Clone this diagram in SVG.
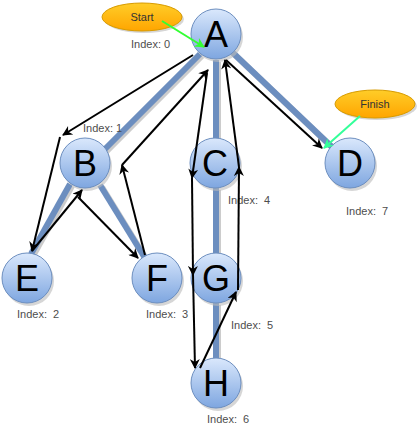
<svg xmlns="http://www.w3.org/2000/svg" width="419" height="430" viewBox="0 0 419 430">
<defs>
<linearGradient id="gNode" x1="0" y1="0" x2="0" y2="1">
<stop offset="0" stop-color="#dae8fc"/>
<stop offset="1" stop-color="#7ea6e0"/>
</linearGradient>
<linearGradient id="gOrange" x1="0" y1="0" x2="0" y2="1">
<stop offset="0" stop-color="#ffcd28"/>
<stop offset="1" stop-color="#ffa500"/>
</linearGradient>
<marker id="ah" viewBox="0 0 10 10" refX="9" refY="5" markerWidth="12" markerHeight="10" markerUnits="userSpaceOnUse" orient="auto">
<path d="M0,0 L10,5 L0,10 L3,5 Z" fill="#000"/>
</marker>
<marker id="ahg" viewBox="0 0 10 10" refX="9" refY="5" markerWidth="12" markerHeight="10" markerUnits="userSpaceOnUse" orient="auto">
<path d="M0,0 L10,5 L0,10 L3,5 Z" fill="#33ff33"/>
</marker>
<marker id="aha" viewBox="0 0 10 10" refX="9" refY="5" markerWidth="12" markerHeight="10" markerUnits="userSpaceOnUse" orient="auto">
<path d="M0,0 L10,5 L0,10 L3,5 Z" fill="#33ff99"/>
</marker>
</defs>
<style>
.tree{stroke:#6c8ebf;stroke-width:6;fill:none}
.treeS{stroke:#cccccc;stroke-width:6;fill:none}
.trav{stroke:#000;stroke-width:2;fill:none;marker-end:url(#ah)}
.nd{fill:url(#gNode);stroke:#6c8ebf;stroke-width:1}
.sh{fill:#bbbbbb;opacity:0.6}
.lt{font-family:"Liberation Sans",Arial,sans-serif;font-size:36px;fill:#000;text-anchor:middle}
.ix{font-family:"Liberation Sans",Arial,sans-serif;font-size:11px;fill:#4d4d4d;white-space:pre}
.ov{fill:url(#gOrange);stroke:#d79b00;stroke-width:1}
.ot{font-family:"Liberation Sans",Arial,sans-serif;font-size:11px;fill:#333;text-anchor:middle}
</style>
<g id="tree-edges">
<g transform="translate(2,2)">
<line class="treeS" x1="200" y1="54" x2="104" y2="150"/>
<line class="treeS" x1="216" y1="60" x2="216" y2="138"/>
<line class="treeS" x1="232" y1="52" x2="333" y2="148"/>
<line class="treeS" x1="70" y1="184" x2="31" y2="254"/>
<line class="treeS" x1="100" y1="185" x2="148" y2="263"/>
<line class="treeS" x1="216" y1="188" x2="216" y2="253"/>
<line class="treeS" x1="216" y1="303" x2="216" y2="358"/>
</g>
<line class="tree" x1="200" y1="54" x2="104" y2="150"/>
<line class="tree" x1="216" y1="60" x2="216" y2="138"/>
<line class="tree" x1="232" y1="52" x2="333" y2="148"/>
<line class="tree" x1="70" y1="184" x2="31" y2="254"/>
<line class="tree" x1="100" y1="185" x2="148" y2="263"/>
<line class="tree" x1="216" y1="188" x2="216" y2="253"/>
<line class="tree" x1="216" y1="303" x2="216" y2="358"/>
</g>
<g id="nodeA"><circle class="sh" cx="218" cy="37" r="25"/><circle class="nd" cx="216" cy="34" r="25"/><text class="lt" x="216" y="47">A</text></g>
<g id="nodeB"><circle class="sh" cx="87" cy="166" r="25"/><circle class="nd" cx="85" cy="163" r="25"/><text class="lt" x="85" y="176">B</text></g>
<g id="nodeC"><circle class="sh" cx="217" cy="166" r="25"/><circle class="nd" cx="215" cy="163" r="25"/><text class="lt" x="215" y="176">C</text></g>
<g id="nodeD"><circle class="sh" cx="352" cy="166" r="25"/><circle class="nd" cx="350" cy="163" r="25"/><text class="lt" x="350" y="176">D</text></g>
<g id="nodeE"><circle class="sh" cx="29" cy="281" r="25"/><circle class="nd" cx="27" cy="278" r="25"/><text class="lt" x="27" y="291">E</text></g>
<g id="nodeF"><circle class="sh" cx="159" cy="281" r="25"/><circle class="nd" cx="157" cy="278" r="25"/><text class="lt" x="157" y="291">F</text></g>
<g id="nodeG"><circle class="sh" cx="218" cy="281" r="25"/><circle class="nd" cx="216" cy="278" r="25"/><text class="lt" x="216" y="291">G</text></g>
<g id="nodeH"><circle class="sh" cx="218" cy="386" r="25"/><circle class="nd" cx="216" cy="383" r="25"/><text class="lt" x="216" y="396">H</text></g>
<g id="start"><ellipse cx="144" cy="19" rx="40" ry="14" fill="#bbb" opacity="0.6"/><ellipse class="ov" cx="142" cy="17" rx="40" ry="14"/><text class="ot" x="142" y="21">Start</text></g>
<g id="finish"><ellipse cx="377" cy="106" rx="40" ry="14" fill="#bbb" opacity="0.6"/><ellipse class="ov" cx="375" cy="104" rx="40" ry="14"/><text class="ot" x="375" y="108">Finish</text></g>
<g id="labels">
<text class="ix" x="131" y="48">Index: 0</text>
<text class="ix" x="83" y="132">Index: 1</text>
<text class="ix" x="17" y="318">Index:  2</text>
<text class="ix" x="146" y="318">Index:  3</text>
<text class="ix" x="228" y="204">Index:  4</text>
<text class="ix" x="231" y="329">Index:  5</text>
<text class="ix" x="207" y="423">Index:  6</text>
<text class="ix" x="346" y="215">Index:  7</text>
</g>
<g id="connectors">
<line class="trav" x1="193" y1="55" x2="63" y2="135"/>
<line class="trav" x1="60" y1="137" x2="32" y2="251"/>
<line class="trav" x1="32" y1="251" x2="82" y2="190"/>
<line class="trav" x1="78" y1="197" x2="138" y2="258"/>
<line class="trav" x1="145" y1="255" x2="122" y2="165"/>
<line class="trav" x1="122" y1="165" x2="208" y2="70"/>
<line class="trav" x1="207" y1="73" x2="192" y2="178"/>
<line class="trav" x1="192" y1="178" x2="193" y2="275"/>
<line class="trav" x1="193" y1="275" x2="195" y2="368"/>
<line class="trav" x1="200" y1="368" x2="236" y2="292"/>
<line class="trav" x1="238" y1="290" x2="239" y2="167"/>
<line class="trav" x1="239" y1="167" x2="225" y2="60"/>
<line class="trav" x1="226" y1="60" x2="322" y2="148"/>
<line x1="162" y1="21" x2="204" y2="47" stroke="#33ff33" stroke-width="2" marker-end="url(#ahg)"/>
<line x1="360" y1="116" x2="324" y2="148" stroke="#33ff99" stroke-width="2" marker-end="url(#aha)"/>
</g>
</svg>
